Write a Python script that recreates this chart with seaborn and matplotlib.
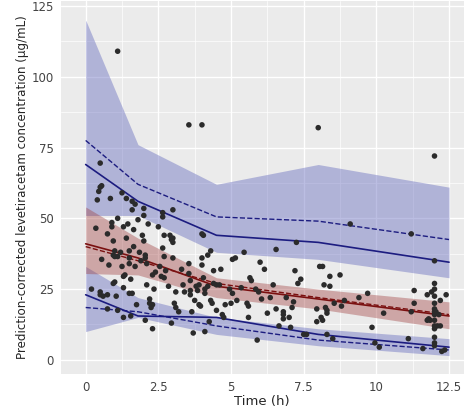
import numpy as np
import matplotlib
matplotlib.use("Agg")
import matplotlib.pyplot as plt
import seaborn as sns
import pandas as pd

bins = [0, 1.8, 4.5, 8, 12.5]
hi_top = [120, 76, 62, 69, 61]
hi_bot = [51, 51, 38, 35.5, 29]
md_top = [54, 43, 29, 25, 20.5]
md_bot = [30.5, 30, 22, 18, 11]
lo_top = [33, 22, 15, 11, 7.5]
lo_bot = [10, 15, 9, 5, 1.5]
obs_hi = [69, 56, 44, 41.5, 34.5]
sim_hi = [77.5, 62, 50.5, 49, 42.5]
obs_md = [41, 36, 26, 21.5, 15.5]
sim_md = [40, 35, 27, 22, 16]
obs_lo = [23, 15.5, 15, 9, 4.5]
sim_lo = [18.5, 17, 12, 7, 3.5]

pts = [(0.2,25),(0.35,46.5),(0.4,56.5),(0.45,59.5),(0.5,61),(0.55,61.5),(0.5,69.5),(0.5,24),(0.5,23),(0.55,35.5),(0.6,22.5),(0.75,18),(0.75,23),(0.75,44.5),(0.8,33.5),(0.85,57),(0.9,48.5),(0.9,47),(0.95,42),(0.95,37),(1.0,38.5),(1.0,36.5),(1.0,27.5),(0.95,27),(1.05,22.5),(1.1,36.5),(1.1,17.5),(1.1,50),(1.1,109),(1.2,38),(1.25,59),(1.25,33),(1.3,29.5),(1.3,25.5),(1.3,15),(1.3,47),(1.35,30),(1.4,57),(1.4,43),(1.45,48),(1.5,38.5),(1.5,36),(1.5,34),(1.5,23.5),(1.55,15.5),(1.55,28.5),(1.6,53),(1.6,56),(1.65,46),(1.65,40),(1.6,23.5),(1.7,55),(1.7,33),(1.75,19.5),(1.8,49.5),(1.85,38),(1.9,35),(1.95,44),(2.0,42),(2.0,53.5),(2.0,51),(2.05,37),(2.05,36),(2.05,14),(2.1,26.5),(2.1,34),(2.15,48),(2.2,21.5),(2.2,20),(2.25,18.5),(2.3,19.5),(2.3,11),(2.3,30),(2.35,25),(2.4,31),(2.5,47),(2.55,33),(2.6,29.5),(2.65,50.5),(2.65,52),(2.65,39.5),(2.7,44),(2.7,36.5),(2.7,29),(2.75,31.5),(2.85,26),(2.9,44),(2.95,42.5),(2.95,13),(3.0,43),(3.0,41.5),(3.0,53),(3.0,36),(3.05,20),(3.1,24),(3.1,18.5),(3.2,17),(3.3,32),(3.35,26.5),(3.4,24),(3.55,30.5),(3.55,34),(3.6,24.5),(3.6,23),(3.6,28),(3.65,17),(3.7,9.5),(3.55,83),(3.75,21),(3.8,26),(3.85,24.5),(3.9,26.5),(3.9,19.5),(3.95,19),(4.0,33.5),(4.0,36),(4.0,44.5),(4.05,44),(4.05,29),(4.0,83),(4.1,25),(4.1,23.5),(4.1,10),(4.2,37),(4.2,26),(4.25,13.5),(4.3,38.5),(4.3,21),(4.35,20),(4.4,31.5),(4.4,27),(4.5,26.5),(4.5,17.5),(4.6,26.5),(4.65,32),(4.7,16),(4.75,15),(4.8,19.5),(4.95,25),(5.0,20),(5.05,23.5),(5.05,35.5),(5.15,36),(5.2,21),(5.35,25.5),(5.45,38),(5.55,20),(5.6,19),(5.6,15),(5.65,29),(5.7,28),(5.85,25),(5.95,24),(5.9,7),(6.0,34.5),(6.05,21.5),(6.15,32),(6.25,16.5),(6.35,22),(6.45,26.5),(6.55,18),(6.55,39),(6.65,12),(6.8,17),(6.8,16),(6.8,14.5),(6.9,22),(7.0,15),(7.05,11.5),(7.1,18.5),(7.15,20.5),(7.2,31.5),(7.25,41.5),(7.3,27),(7.4,28.5),(7.5,9),(7.6,9),(8.0,82),(8.05,33),(8.15,33),(7.95,18),(7.95,13.5),(8.1,15),(8.15,14),(8.2,26.5),(8.25,18.5),(8.3,17.5),(8.3,16.5),(8.3,9),(8.4,29.5),(8.4,26),(8.5,7.5),(8.55,20),(8.75,30),(8.8,19),(8.9,21),(9.1,48),(9.4,22),(9.7,23.5),(9.85,11.5),(9.95,6),(10.1,4.5),(10.25,16.5),(11.1,7.5),(11.2,17),(11.2,44.5),(11.3,24.5),(11.3,20),(11.6,4),(11.75,14),(11.75,23),(11.8,14.5),(11.85,14),(11.9,24),(12.0,72),(12.0,35),(12.0,27),(12.0,25),(12.0,22.5),(12.0,20),(12.0,18),(12.0,17),(12.0,16),(12.0,14),(12.0,12),(12.0,11),(12.0,8),(12.0,6),(12.0,5),(12.05,17),(12.1,12),(12.15,16),(12.2,21),(12.2,12),(12.25,3),(12.35,3.5),(12.4,23)]
obs_t = [p[0] for p in pts]
obs_c = [p[1] for p in pts]

sns.set_theme(style="darkgrid", rc={"axes.facecolor": "#EBEBEB", "grid.color": "white"})
fig, ax = plt.subplots(figsize=(4.74, 4.13), dpi=100)
fig.subplots_adjust(left=0.128, right=0.978, bottom=0.095, top=0.998)

blue = "#6A6FC0"
ax.fill_between(bins, hi_bot, hi_top, color=blue, alpha=0.45, lw=0, zorder=2)
ax.fill_between(bins, lo_bot, lo_top, color=blue, alpha=0.45, lw=0, zorder=2)
ax.fill_between(bins, md_bot, md_top, color="#A04040", alpha=0.4, lw=0, zorder=2)
sns.lineplot(x=bins, y=obs_hi, color="#1C1C80", lw=1.2, ax=ax, zorder=4)
sns.lineplot(x=bins, y=sim_hi, color="#1C1C80", lw=1.0, ls="--", ax=ax, zorder=4)
sns.lineplot(x=bins, y=obs_lo, color="#1C1C80", lw=1.2, ax=ax, zorder=4)
sns.lineplot(x=bins, y=sim_lo, color="#1C1C80", lw=1.0, ls="--", ax=ax, zorder=4)
sns.lineplot(x=bins, y=obs_md, color="#7A1010", lw=1.2, ax=ax, zorder=4)
sns.lineplot(x=bins, y=sim_md, color="#7A1010", lw=1.0, ls="--", ax=ax, zorder=4)
sns.scatterplot(x=obs_t, y=obs_c, color="#2B2B2B", s=16, edgecolor="none", ax=ax, zorder=5)

ax.set_xlim(-0.86, 13.0)
ax.set_ylim(-4.9, 126.8)
ax.set_xticks([0, 2.5, 5, 7.5, 10, 12.5])
ax.set_xticklabels(["0", "2.5", "5", "7.5", "10", "12.5"])
ax.set_yticks([0, 25, 50, 75, 100, 125])
ax.set_xticks([1.25, 3.75, 6.25, 8.75, 11.25], minor=True)
ax.set_yticks([12.5, 37.5, 62.5, 87.5, 112.5], minor=True)
ax.grid(which="major", color="white", lw=1.0)
ax.grid(which="minor", color="white", lw=0.5)
ax.tick_params(which="minor", length=0)
ax.tick_params(which="major", length=3, pad=2, color="#333333", labelsize=8.5, labelcolor="#444444")
for s in ax.spines.values():
    s.set_visible(False)
ax.set_xlabel("Time (h)", fontsize=9.5, labelpad=1)
ax.set_ylabel("Prediction-corrected levetiracetam concentration (μg/mL)", fontsize=8.6, labelpad=2)
fig.savefig("out.png")
